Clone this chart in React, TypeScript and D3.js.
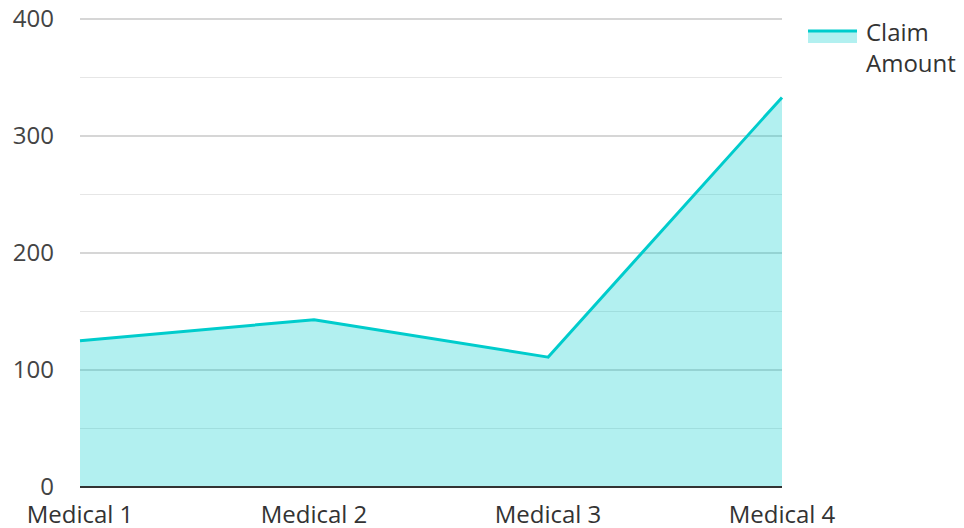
import React, { useEffect, useRef } from 'react';
import * as d3 from 'd3';

const categories = ['Medical 1', 'Medical 2', 'Medical 3', 'Medical 4'];
const claimAmount = [125, 143, 111, 333];
const yTicks = [0, 100, 200, 300, 400];
const minorTicks = [50, 150, 250, 350];
const seriesName = ['Claim', 'Amount'];

const App: React.FC = () => {
  const ref = useRef<SVGSVGElement>(null);

  useEffect(() => {
    const svg = d3.select(ref.current!);
    svg.selectAll('*').remove();

    const width = 964;
    const height = 528;
    const font = '"Open Sans", sans-serif';

    const x = d3.scalePoint<string>().domain(categories).range([80, 782]);
    const y = d3.scaleLinear().domain([0, 400]).range([487, 19]);

    svg.attr('width', width).attr('height', height);

    // minor grid
    svg
      .append('g')
      .selectAll('line')
      .data(minorTicks)
      .enter()
      .append('line')
      .attr('x1', 80)
      .attr('x2', 782)
      .attr('y1', (d) => y(d))
      .attr('y2', (d) => y(d))
      .attr('stroke', '#e6e6e6')
      .attr('stroke-width', 1);

    // major grid
    svg
      .append('g')
      .selectAll('line')
      .data(yTicks.filter((d) => d > 0))
      .enter()
      .append('line')
      .attr('x1', 80)
      .attr('x2', 782)
      .attr('y1', (d) => y(d))
      .attr('y2', (d) => y(d))
      .attr('stroke', '#c8c8c8')
      .attr('stroke-width', 1.5);

    const data = categories.map((c, i) => ({ c, v: claimAmount[i] }));

    const area = d3
      .area<{ c: string; v: number }>()
      .x((d) => x(d.c)!)
      .y0(y(0))
      .y1((d) => y(d.v));

    svg
      .append('path')
      .datum(data)
      .attr('d', area)
      .attr('fill', 'rgba(0,204,204,0.3)');

    const line = d3
      .line<{ c: string; v: number }>()
      .x((d) => x(d.c)!)
      .y((d) => y(d.v));

    svg
      .append('path')
      .datum(data)
      .attr('d', line)
      .attr('fill', 'none')
      .attr('stroke', '#00cccc')
      .attr('stroke-width', 3)
      .attr('stroke-linejoin', 'round');

    // zero axis
    svg
      .append('line')
      .attr('x1', 80)
      .attr('x2', 782)
      .attr('y1', y(0))
      .attr('y2', y(0))
      .attr('stroke', '#333')
      .attr('stroke-width', 2);

    // y labels
    svg
      .append('g')
      .selectAll('text')
      .data(yTicks)
      .enter()
      .append('text')
      .attr('x', 54)
      .attr('y', (d) => y(d) + 8)
      .attr('text-anchor', 'end')
      .attr('font-family', font)
      .attr('font-size', 24)
      .attr('fill', '#444')
      .text((d) => d);

    // x labels
    svg
      .append('g')
      .selectAll('text')
      .data(categories)
      .enter()
      .append('text')
      .attr('x', (d) => x(d)!)
      .attr('y', 523)
      .attr('text-anchor', 'middle')
      .attr('font-family', font)
      .attr('font-size', 24)
      .attr('fill', '#333')
      .text((d) => d);

    // legend
    const legend = svg.append('g');
    legend
      .append('rect')
      .attr('x', 808)
      .attr('y', 31)
      .attr('width', 49)
      .attr('height', 12)
      .attr('fill', 'rgba(0,204,204,0.3)');
    legend
      .append('line')
      .attr('x1', 808)
      .attr('x2', 857)
      .attr('y1', 31)
      .attr('y2', 31)
      .attr('stroke', '#00cccc')
      .attr('stroke-width', 3);
    legend
      .selectAll('text')
      .data(seriesName)
      .enter()
      .append('text')
      .attr('x', 866)
      .attr('y', (d, i) => 41 + i * 31)
      .attr('font-family', font)
      .attr('font-size', 24)
      .attr('fill', '#333')
      .text((d) => d);
  }, []);

  return (
    <svg
      ref={ref}
      style={{ position: 'absolute', left: 0, top: 0, background: '#fff' }}
    />
  );
};

export default App;
